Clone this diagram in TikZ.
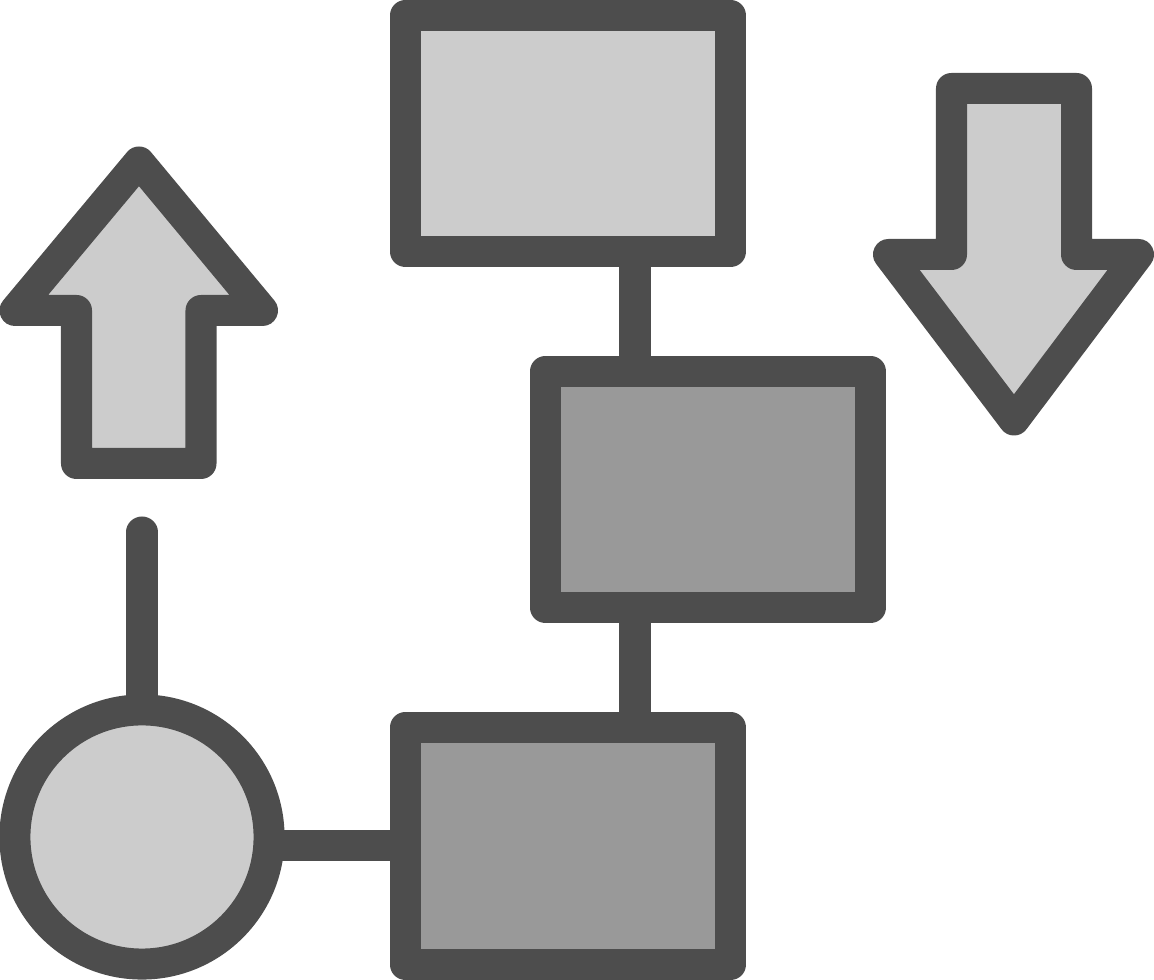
\documentclass[tikz,border=0pt]{standalone}
\usetikzlibrary{backgrounds}
\begin{document}
\begin{tikzpicture}[x=0.01cm,y=-0.01cm,
  ink/.style={draw=inkc,line width=0.31cm,line join=round},
  lightbox/.style={ink,fill=lightc,rectangle,inner sep=0pt},
  darkbox/.style={ink,fill=darkc,rectangle,inner sep=0pt},
  link/.style={draw=inkc,line width=0.31cm}]
\definecolor{inkc}{HTML}{4D4D4D}
\definecolor{lightc}{HTML}{CCCCCC}
\definecolor{darkc}{HTML}{999999}
\useasboundingbox (0,0) rectangle (1154,980);
% named anchors
\coordinate (cx) at (635,0);
\coordinate (cy) at (0,845.5);
\coordinate (stemtop) at (142,532);
% shapes
\node[lightbox,minimum width=3.25cm,minimum height=2.36cm] (top) at (568,133.5) {};
\node[darkbox,minimum width=3.25cm,minimum height=2.36cm] (mid) at (708,489.5) {};
\node[darkbox,minimum width=3.25cm,minimum height=2.37cm] (bot) at (568,846) {};
\node[ink,fill=lightc,circle,inner sep=0pt,minimum size=2.54cm] (circ) at (142,837) {};
% connectors behind shapes
\begin{scope}[on background layer]
\draw[link] (top.south -| cx) -- (mid.north -| cx);
\draw[link] (mid.south -| cx) -- (bot.north -| cx);
\draw[link] (circ.center |- cy) -- (bot.center |- cy);
\draw[link,line cap=round] (stemtop) -- (circ.center);
\end{scope}
% up arrow
\path[ink,fill=lightc] (139,162) -- (15,310.5) -- (76.5,310.5) -- (76.5,463.5)
  -- (201,463.5) -- (201,310.5) -- (262.5,310.5) -- cycle;
% down arrow
\path[ink,fill=lightc] (951.5,88.5) -- (1076.5,88.5) -- (1076.5,254.5) -- (1138.5,254.5)
  -- (1014,420) -- (888.5,254.5) -- (951.5,254.5) -- cycle;
\end{tikzpicture}
\end{document}
